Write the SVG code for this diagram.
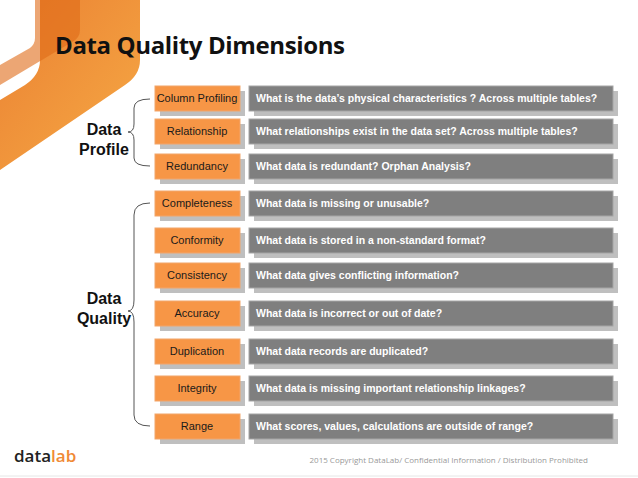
<svg xmlns="http://www.w3.org/2000/svg" width="638" height="478" viewBox="0 0 638 478">
<defs>
<style>
.o{fill:#f79646;stroke:#f2a56a;stroke-width:1}
.g{fill:#7f7f7f;stroke:#a6a6a6;stroke-width:1}
.s{fill:#bfbfbf}
.ot{font-family:"Liberation Sans",Arial,sans-serif;font-size:11px;fill:#1a1a1a;text-anchor:middle}
.gt{font-family:"Liberation Sans",Arial,sans-serif;font-size:10.5px;font-weight:bold;fill:#fff}
.lab{font-family:"Liberation Sans",Arial,sans-serif;font-size:16px;font-weight:bold;fill:#111;text-anchor:middle}
</style>
<linearGradient id="band" x1="0" y1="0" x2="1" y2="1">
<stop offset="0" stop-color="#e8731c"/><stop offset="1" stop-color="#f5a030"/>
</linearGradient>
</defs>
<rect width="638" height="478" fill="#fff"/>
<path d="M40 0 L140 0 L140 60 Q140 75 125 85 L0 170 L0 100 L25 85 Q40 75 40 60 Z" fill="url(#band)" opacity="0.9"/>
<path d="M35 0 L80 0 L80 30 Q80 38 72 42 L0 85 L0 65 L30 48 Q35 44 35 38 Z" fill="#e06a18" opacity="0.6"/>
<text x="55" y="54" font-family="Open Sans,Liberation Sans,sans-serif" font-size="24" font-weight="bold" fill="#111" textLength="290">Data Quality Dimensions</text>
<g id="brackets" fill="none" stroke="#555" stroke-width="1">
<path d="M150 99 Q134 99 134 108 L134 124 Q134 132 128 132 Q134 132 134 140 L134 158 Q134 166 150 166"/>
<path d="M150 203 Q134 203 134 215 L134 300 Q134 311 128 311 Q134 311 134 322 L134 415 Q134 426 150 426"/>
</g>
<g id="label-profile"><text class="lab" x="104" y="135">Data</text><text class="lab" x="104" y="155">Profile</text></g>
<g id="label-quality"><text class="lab" x="104" y="304">Data</text><text class="lab" x="104" y="324">Quality</text></g>
<g id="rows">
<g id="r1"><rect class="s" x="160" y="91" width="85" height="25"/><rect class="o" x="155" y="86" width="85" height="25"/><text class="ot" x="197" y="102">Column Profiling</text><rect class="s" x="254" y="91" width="364" height="25"/><rect class="g" x="249" y="86" width="364" height="25"/><text class="gt" x="256" y="102">What is the data’s physical characteristics ? Across multiple tables?</text></g>
<g id="r2"><rect class="s" x="160" y="124" width="85" height="25"/><rect class="o" x="155" y="119" width="85" height="25"/><text class="ot" x="197" y="135">Relationship</text><rect class="s" x="254" y="124" width="364" height="25"/><rect class="g" x="249" y="119" width="364" height="25"/><text class="gt" x="256" y="135">What relationships exist in the data set? Across multiple tables?</text></g>
<g id="r3"><rect class="s" x="160" y="159" width="85" height="25"/><rect class="o" x="155" y="154" width="85" height="25"/><text class="ot" x="197" y="170">Redundancy</text><rect class="s" x="254" y="159" width="364" height="25"/><rect class="g" x="249" y="154" width="364" height="25"/><text class="gt" x="256" y="170">What data is redundant? Orphan Analysis?</text></g>
<g id="r4"><rect class="s" x="160" y="196" width="85" height="25"/><rect class="o" x="155" y="191" width="85" height="25"/><text class="ot" x="197" y="207">Completeness</text><rect class="s" x="254" y="196" width="364" height="25"/><rect class="g" x="249" y="191" width="364" height="25"/><text class="gt" x="256" y="207">What data is missing or unusable?</text></g>
<g id="r5"><rect class="s" x="160" y="233" width="85" height="25"/><rect class="o" x="155" y="228" width="85" height="25"/><text class="ot" x="197" y="244">Conformity</text><rect class="s" x="254" y="233" width="364" height="25"/><rect class="g" x="249" y="228" width="364" height="25"/><text class="gt" x="256" y="244">What data is stored in a non-standard format?</text></g>
<g id="r6"><rect class="s" x="160" y="268" width="85" height="25"/><rect class="o" x="155" y="263" width="85" height="25"/><text class="ot" x="197" y="279">Consistency</text><rect class="s" x="254" y="268" width="364" height="25"/><rect class="g" x="249" y="263" width="364" height="25"/><text class="gt" x="256" y="279">What data gives conflicting information?</text></g>
<g id="r7"><rect class="s" x="160" y="306" width="85" height="25"/><rect class="o" x="155" y="301" width="85" height="25"/><text class="ot" x="197" y="317">Accuracy</text><rect class="s" x="254" y="306" width="364" height="25"/><rect class="g" x="249" y="301" width="364" height="25"/><text class="gt" x="256" y="317">What data is incorrect or out of date?</text></g>
<g id="r8"><rect class="s" x="160" y="344" width="85" height="25"/><rect class="o" x="155" y="339" width="85" height="25"/><text class="ot" x="197" y="355">Duplication</text><rect class="s" x="254" y="344" width="364" height="25"/><rect class="g" x="249" y="339" width="364" height="25"/><text class="gt" x="256" y="355">What data records are duplicated?</text></g>
<g id="r9"><rect class="s" x="160" y="381" width="85" height="25"/><rect class="o" x="155" y="376" width="85" height="25"/><text class="ot" x="197" y="392">Integrity</text><rect class="s" x="254" y="381" width="364" height="25"/><rect class="g" x="249" y="376" width="364" height="25"/><text class="gt" x="256" y="392">What data is missing important relationship linkages?</text></g>
<g id="r10"><rect class="s" x="160" y="419" width="85" height="25"/><rect class="o" x="155" y="414" width="85" height="25"/><text class="ot" x="197" y="430">Range</text><rect class="s" x="254" y="419" width="364" height="25"/><rect class="g" x="249" y="414" width="364" height="25"/><text class="gt" x="256" y="430">What scores, values, calculations are outside of range?</text></g>
</g>
<text x="14" y="462" font-family="Open Sans,Liberation Sans,sans-serif" font-size="17" font-weight="600" fill="#222">data<tspan fill="#f08a36">lab</tspan></text>
<text x="588" y="463" text-anchor="end" font-family="Open Sans,Liberation Sans,sans-serif" font-size="8" fill="#999">2015 Copyright DataLab/ Confidential Information / Distribution Prohibited</text>
<line x1="0" y1="476" x2="638" y2="476" stroke="#e6e6e6"/>
</svg>
